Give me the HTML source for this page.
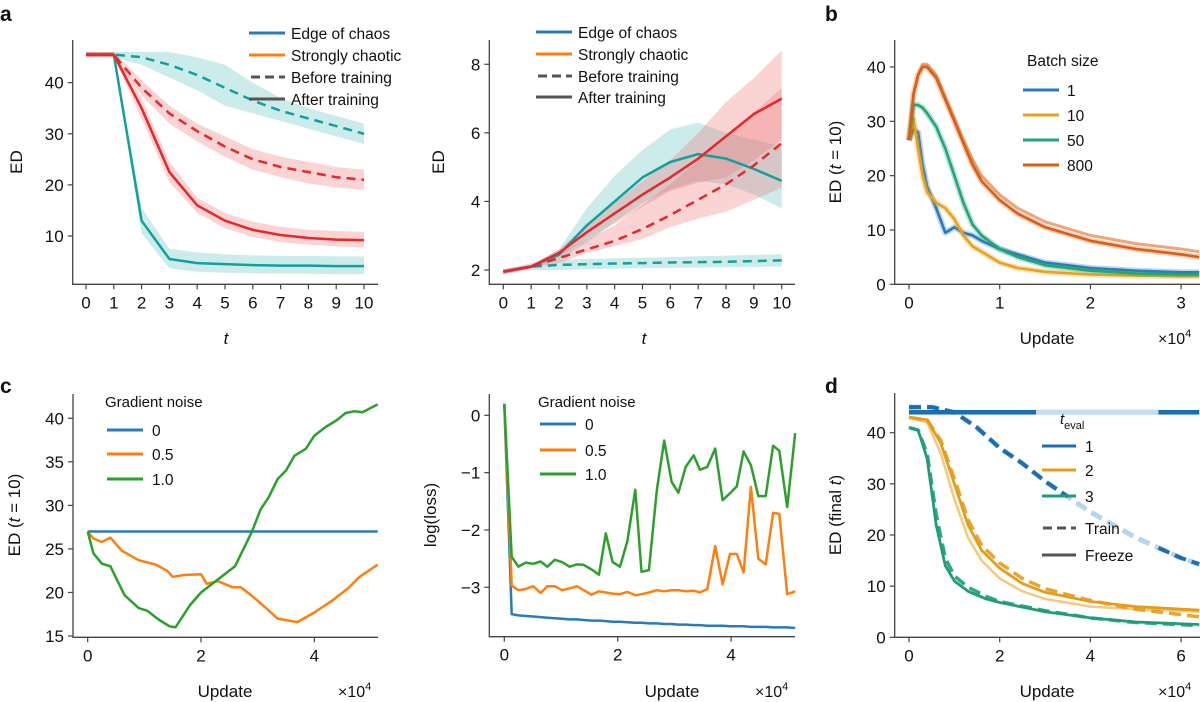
<!DOCTYPE html>
<html><head><meta charset="utf-8"><style>
body{margin:0;background:#fff;}
svg{display:block;font-family:"Liberation Sans",sans-serif;}
</style></head><body>
<svg id="fig" width="1200" height="702" viewBox="0 0 1200 702"></svg>
<script>
// ---- Panel a (left): ED vs t ----
const aT = [0,1,2,3,4,5,6,7,8,9,10];
const aEocAfter = [45.5,45.5,13,5.5,4.7,4.5,4.3,4.2,4.2,4.1,4.1];
const aEocAfterLo = [45,45,10.5,3.7,3,2.8,2.7,2.6,2.6,2.5,2.5];
const aEocAfterHi = [46,46,15.5,7.5,6.8,6.4,6.2,6.1,6.1,6.0,6.0];
const aEocBefore = [45.5,45.5,45,43.5,41.5,39,36.5,34.5,33,31.5,30];
const aEocBeforeLo = [45,45,43.5,41,38.5,35.5,34,32.5,31,29.5,28];
const aEocBeforeHi = [46,46,46,46,45,43.5,40,37,35,33.5,32];
const aChAfter = [45.5,45.5,35,22.5,16,13,11.2,10.2,9.6,9.3,9.2];
const aChAfterLo = [45,45,33,20.5,14.5,11.5,9.8,8.8,8.3,8,7.8];
const aChAfterHi = [46,46,37,24.5,17.5,14.5,12.8,11.8,11.2,11,10.8];
const aChBefore = [45.5,45.5,39,34,30.5,27.5,25,23.5,22.5,21.5,21];
const aChBeforeLo = [45,45,37.5,32,28.5,25.5,23,21.5,20.3,19.5,19];
const aChBeforeHi = [46,46,40.5,35.5,32,29.5,27,25.5,24.5,23.5,23];
const aYTicks = [10,20,30,40];
const aXTicks = [0,1,2,3,4,5,6,7,8,9,10];
// ---- Panel a (right) ----
const a2EocAfter = [1.95,2.1,2.45,3.3,4.0,4.7,5.15,5.38,5.25,4.95,4.6];
const a2EocAfterLo = [1.88,2.05,2.3,2.8,3.4,3.95,4.35,4.6,4.5,4.2,3.8];
const a2EocAfterHi = [2.02,2.15,2.6,3.8,4.75,5.5,6.1,6.3,6.0,5.8,5.6];
const a2EocBefore = [1.95,2.1,2.15,2.17,2.19,2.2,2.22,2.23,2.24,2.26,2.28];
const a2EocBeforeLo = [1.88,2.0,2.0,2.02,2.04,2.05,2.06,2.07,2.08,2.09,2.1];
const a2EocBeforeHi = [2.02,2.2,2.3,2.32,2.34,2.36,2.38,2.4,2.42,2.44,2.46];
const a2ChAfter = [1.95,2.1,2.5,3.1,3.65,4.2,4.7,5.25,5.9,6.55,7.0];
const a2ChAfterLo = [1.88,2.05,2.4,2.9,3.35,3.85,4.3,4.55,4.7,5.2,5.8];
const a2ChAfterHi = [2.02,2.15,2.6,3.3,3.95,4.6,5.2,6.0,6.9,7.6,8.4];
const a2ChBefore = [1.95,2.1,2.35,2.6,2.85,3.2,3.6,4.05,4.5,5.05,5.7];
const a2ChBeforeLo = [1.88,2.05,2.2,2.5,2.7,2.9,3.25,3.5,3.7,4.05,4.4];
const a2ChBeforeHi = [2.02,2.15,2.5,2.9,3.3,3.9,4.5,5.2,5.9,6.6,7.3];
const a2YTicks = [2,4,6,8];
// ---- Panel b ----
const bUpd = [0,0.05,0.1,0.15,0.2,0.3,0.4,0.5,0.6,0.7,0.8,1.0,1.2,1.5,2.0,2.5,3.0,3.2];
const bB1 = [26.5,28.5,28,22,18,14,9.5,10.5,9.5,9,8,6.5,5.5,4,3,2.5,2.2,2.2];
const bB10 = [26.5,30.5,25,20,17,15,14,12,9,7,6,4,3,2.3,1.8,1.6,1.5,1.5];
const bB50 = [26.5,33,33,32.5,31.5,29,25,20,15,11,9,6.5,5,3.5,2.5,2,1.8,1.8];
const bB800 = [26.5,35,38.5,40,40,38,34,30,26,22,19,15.5,13,10.5,8,6.5,5.5,5];
const bB800b = [26.5,35,38.5,40.5,40.5,38.5,34.5,30.5,26.5,23,20,16.5,14,11.5,9,7.5,6.5,6];
const bYTicks = [0,10,20,30,40];
const bXTicks = [0,1,2,3];
// ---- Panel c (left) ----
const cUpdGreen = [0,0.1,0.25,0.4,0.65,0.9,1.05,1.25,1.45,1.55,1.8,2.0,2.3,2.6,2.75,2.9,3.05,3.2,3.35,3.5,3.65,3.85,4.0,4.2,4.4,4.55,4.7,4.85,5.0,5.12];
const cGreen = [27,24.5,23.3,23,19.7,18.2,17.9,16.9,16.1,16,18.5,20,21.5,23,25,27,29.5,31,33,34,35.7,36.5,38,39,39.8,40.6,40.8,40.7,41.2,41.6];
const cUpdOrange = [0,0.1,0.25,0.4,0.6,0.9,1.2,1.4,1.5,1.7,2.0,2.1,2.3,2.55,2.7,2.9,3.2,3.35,3.7,4.0,4.3,4.6,4.8,5.12];
const cOrange = [27,26.2,25.8,26.3,24.8,23.7,23.2,22.5,21.8,22,22.1,21,21.3,20.6,20.6,19.6,17.9,17,16.6,17.7,19,20.5,21.8,23.2];
const cUpdBlue = [0,5.12];
const cBlue = [27,27];
const cYTicks = [15,20,25,30,35,40];
const cXTicks = [0,2,4];
// ---- Panel c (right) ----
const c2Upd = [0,0.13,0.25,0.38,0.51,0.64,0.76,0.89,1.02,1.15,1.28,1.4,1.54,1.67,1.79,1.91,2.04,2.17,2.31,2.42,2.55,2.69,2.82,2.95,3.07,3.2,3.34,3.45,3.58,3.72,3.85,3.98,4.1,4.22,4.35,4.48,4.61,4.74,4.85,4.99,5.13];
const c2Green = [0.2,-2.47,-2.64,-2.57,-2.59,-2.55,-2.64,-2.52,-2.56,-2.64,-2.6,-2.61,-2.69,-2.78,-2.06,-2.56,-2.64,-2.2,-1.3,-2.73,-2.7,-1.31,-0.44,-1.16,-1.35,-0.9,-0.7,-0.95,-0.9,-0.58,-1.48,-1.36,-1.24,-0.63,-0.87,-1.41,-1.41,-0.53,-0.62,-1.6,-0.31];
const c2Orange = [0.2,-2.97,-3.05,-3.03,-2.98,-3.1,-2.98,-2.98,-3.05,-3.02,-2.98,-3.05,-3.13,-3.07,-3.09,-3.11,-3.12,-3.08,-3.14,-3.12,-3.09,-3.05,-3.07,-3.05,-3.05,-3.07,-3.06,-3.09,-3.03,-2.28,-2.95,-2.42,-2.42,-2.74,-1.25,-2.5,-2.6,-1.7,-1.72,-3.12,-3.07];
const c2Blue = [0.2,-3.47,-3.49,-3.5,-3.51,-3.52,-3.53,-3.54,-3.55,-3.56,-3.56,-3.57,-3.58,-3.58,-3.59,-3.6,-3.6,-3.61,-3.62,-3.62,-3.63,-3.63,-3.64,-3.64,-3.65,-3.65,-3.66,-3.66,-3.67,-3.67,-3.67,-3.68,-3.68,-3.68,-3.69,-3.69,-3.69,-3.7,-3.7,-3.7,-3.71];
const c2YTicks = [-3,-2,-1,0];
const c2YLabels = ["\u22123","\u22122","\u22121","0"];
// ---- Panel d ----
const dUpd1 = [0,0.5,1,1.5,2,2.5,3,3.5,4,4.5,5,5.5,6,6.4];
const dT1Train = [45,45,44,41,37,34,30.5,27.5,24.5,22,19.5,17.5,15.5,14.3];
const dT1Freeze = [44,44,44,44,44,44,44,44,44,44,44,44,44,44];
const dUpd2 = [0,0.4,0.7,1,1.3,1.6,2,2.5,3,4,5,6.4];
const dT2Freeze = [43,42.5,38,30,22,17,13.5,10.5,8.8,7,6,5.3];
const dT2FreezeB = [43,42,36,27,19.5,15,11.5,9,7.5,6,5.5,5];
const dT2Train = [43,42.5,38.5,31,23,18,14.5,11.5,9.5,7.2,5.5,4];
const dUpd3 = [0,0.2,0.4,0.6,0.8,1,1.3,1.7,2,3,4,5,6.4];
const dT3Freeze = [41,40.5,35,22,14,11,9,7.5,6.8,5,3.8,3,2.5];
const dT3Train = [41,40.5,36,24,15.5,12,9.8,8,7,5.2,3.8,2.9,2.3];
const dYTicks = [0,10,20,30,40];
const dXTicks = [0,2,4,6];

const NS = "http://www.w3.org/2000/svg";
const svg = document.getElementById('fig');
function el(tag, attrs, parent, text){
  const e = document.createElementNS(NS, tag);
  for (const k in attrs) e.setAttribute(k, attrs[k]);
  if (text !== undefined) e.textContent = text;
  (parent || svg).appendChild(e);
  return e;
}
function scale(d0,d1,p0,p1){ return v => p0 + (v-d0)*(p1-p0)/(d1-d0); }
function pathD(xs, ys, sx, sy){
  let d = "";
  const n = Math.min(xs.length, ys.length);
  for (let i=0;i<n;i++) d += (i?"L":"M") + sx(xs[i]).toFixed(1) + "," + sy(ys[i]).toFixed(1);
  return d;
}
function drawAxes(g, ax){
  const axisLine = el('path',{d:`M${ax.left},${ax.top}V${ax.bottom}H${ax.right}`,fill:'none',stroke:'#444','stroke-width':1.3},g);
  
  
  ax.yt.forEach((v,i)=>{
    const y = ax.sy(v);
    const t = el('line',{x1:ax.left-5,x2:ax.left,y1:y,y2:y,stroke:'#444','stroke-width':1.2},g);
    
    
    const lb = el('text',{x:ax.left-9,y:y+6,'text-anchor':'end','font-size':17,fill:'#111'},g,ax.ytl?ax.ytl[i]:String(v));
    
    
  });
  ax.xt.forEach(v=>{
    const x = ax.sx(v);
    const t = el('line',{x1:x,x2:x,y1:ax.bottom,y2:ax.bottom+5,stroke:'#444','stroke-width':1.2},g);
    
    
    const lb = el('text',{x:x,y:ax.bottom+24,'text-anchor':'middle','font-size':17,fill:'#111'},g,String(v));
    
    
  });
}
function line(g, xs, ys, ax, color, w, dash, op, name){
  const p = el('path',{d:pathD(xs,ys,ax.sx,ax.sy),fill:'none',stroke:color,'stroke-width':w,'stroke-linejoin':'round','stroke-opacity':op||1},g);
  if (dash) p.setAttribute('stroke-dasharray', dash);
  
  
  return p;
}
function band(g, xs, lo, hi, ax, color, name){
  let d = pathD(xs,hi,ax.sx,ax.sy);
  for (let i=xs.length-1;i>=0;i--) d += "L"+ax.sx(xs[i]).toFixed(1)+","+ax.sy(lo[i]).toFixed(1);
  const p = el('path',{d:d+"Z",fill:color,stroke:'none'},g);
  
  
}
function txt(g, x, y, s, size, name, extra){
  const a = Object.assign({x:x,y:y,'font-size':size,fill:'#111'}, extra||{});
  const t = el('text',a,g,s);
  
  
  return t;
}
function legLine(g, x1, x2, y, color, dash, name){
  const l = el('line',{x1:x1,x2:x2,y1:y,y2:y,stroke:color,'stroke-width':3},g);
  if (dash) l.setAttribute('stroke-dasharray', dash);
  
  
}
function panel(name){
  const g = el('g',{});
  
  
  return g;
}
const TEAL='#12a09c', RED='#e8262e', TEALB='rgba(110,200,200,0.35)', REDB='rgba(240,110,110,0.3)';

// Panel a left
{
  const g = panel('panel-a-left');
  const ax = {left:72.7, right:378, top:40, bottom:284.3, sx:scale(0,10,86,364), sy:scale(10,40,236,82.7), yt:aYTicks, xt:aXTicks};
  band(g,aT,aEocBeforeLo,aEocBeforeHi,ax,TEALB,'band-eoc-before');
  band(g,aT,aEocAfterLo,aEocAfterHi,ax,TEALB,'band-eoc-after');
  band(g,aT,aChBeforeLo,aChBeforeHi,ax,REDB,'band-chaotic-before');
  band(g,aT,aChAfterLo,aChAfterHi,ax,REDB,'band-chaotic-after');
  line(g,aT,aEocBefore,ax,TEAL,2.5,'9,6',1,'line-eoc-before');
  line(g,aT,aEocAfter,ax,TEAL,2.5,null,1,'line-eoc-after');
  line(g,aT,aChBefore,ax,RED,2.5,'9,6',1,'line-chaotic-before');
  line(g,aT,aChAfter,ax,RED,2.5,null,1,'line-chaotic-after');
  drawAxes(g,ax);
  txt(g,0,21,'a',21,'panel-label-a',{'font-weight':'bold'});
  txt(g,22,162,'ED',17,'y-axis-title',{transform:'rotate(-90 22 162)','text-anchor':'middle'});
  txt(g,226,344,'t',17,'x-axis-title',{'font-style':'italic','text-anchor':'middle'});
  legLine(g,249,285,33,'#2b7bba',null,'legend-line-eoc');
  legLine(g,249,285,55,'#ff7f0e',null,'legend-line-chaotic');
  legLine(g,251,285,77,'#555','9,5','legend-line-before');
  legLine(g,249,285,99,'#555',null,'legend-line-after');
  txt(g,291,39,'Edge of chaos',15.5,'legend-entry');
  txt(g,291,61,'Strongly chaotic',15.5,'legend-entry');
  txt(g,291,83,'Before training',15.5,'legend-entry');
  txt(g,291,105,'After training',15.5,'legend-entry');
}
// Panel a right
{
  const g = panel('panel-a-right');
  const ax = {left:489.3, right:795, top:40, bottom:284.3, sx:scale(0,10,503.3,781.7), sy:scale(2,8,270,64.3), yt:a2YTicks, xt:aXTicks};
  band(g,aT,a2EocBeforeLo,a2EocBeforeHi,ax,TEALB,'band-eoc-before');
  band(g,aT,a2EocAfterLo,a2EocAfterHi,ax,TEALB,'band-eoc-after');
  band(g,aT,a2ChBeforeLo,a2ChBeforeHi,ax,REDB,'band-chaotic-before');
  band(g,aT,a2ChAfterLo,a2ChAfterHi,ax,REDB,'band-chaotic-after');
  line(g,aT,a2EocBefore,ax,TEAL,2.5,'9,6',1,'line-eoc-before');
  line(g,aT,a2EocAfter,ax,TEAL,2.5,null,1,'line-eoc-after');
  line(g,aT,a2ChBefore,ax,RED,2.5,'9,6',1,'line-chaotic-before');
  line(g,aT,a2ChAfter,ax,RED,2.5,null,1,'line-chaotic-after');
  drawAxes(g,ax);
  txt(g,444,162,'ED',17,'y-axis-title',{transform:'rotate(-90 444 162)','text-anchor':'middle'});
  txt(g,644,344,'t',17,'x-axis-title',{'font-style':'italic','text-anchor':'middle'});
  legLine(g,536,572,32,'#2b7bba',null,'legend-line-eoc');
  legLine(g,536,572,54,'#ff7f0e',null,'legend-line-chaotic');
  legLine(g,538,572,76,'#555','9,5','legend-line-before');
  legLine(g,536,572,97,'#555',null,'legend-line-after');
  txt(g,578,38,'Edge of chaos',15.5,'legend-entry');
  txt(g,578,60,'Strongly chaotic',15.5,'legend-entry');
  txt(g,578,82,'Before training',15.5,'legend-entry');
  txt(g,578,103,'After training',15.5,'legend-entry');
}
// Panel b
{
  const g = panel('panel-b');
  const ax = {left:894.7, right:1200, top:40, bottom:284.3, sx:scale(0,1,909,999.7), sy:scale(0,40,284.3,67), yt:bYTicks, xt:bXTicks};
  const C = {b1:'#2a78be', b10:'#e8a21b', b50:'#22a577', b800:'#d95f14'};
  line(g,bUpd,bB800b,ax,C.b800,3,null,0.55,'line-batch-800-run2');
  [['b1',bB1],['b10',bB10],['b50',bB50],['b800',bB800]].forEach(([k,ys])=>{
    line(g,bUpd,ys,ax,C[k],6,null,0.3,'band-batch-'+k.slice(1));
    line(g,bUpd,ys,ax,C[k],2.6,null,1,'line-batch-'+k.slice(1));
  });
  drawAxes(g,ax);
  txt(g,825,21,'b',21,'panel-label-b',{'font-weight':'bold'});
  txt(g,841,162,'',17,'y-axis-title',{transform:'rotate(-90 841 162)','text-anchor':'middle'}).innerHTML='ED (<tspan font-style="italic">t</tspan> = 10)';
  txt(g,1047,344,'Update',17,'x-axis-title',{'text-anchor':'middle'});
  txt(g,1158,344,'',16,'x-axis-multiplier').innerHTML='×10<tspan dy="-7" font-size="11">4</tspan>';
  txt(g,1027,66,'Batch size',15.5,'legend-title');
  legLine(g,1023,1059,90,C.b1,null,'legend-line-1');
  legLine(g,1023,1059,115,C.b10,null,'legend-line-10');
  legLine(g,1023,1059,140,C.b50,null,'legend-line-50');
  legLine(g,1023,1059,165,C.b800,null,'legend-line-800');
  txt(g,1067,96,'1',15.5,'legend-entry');
  txt(g,1067,121,'10',15.5,'legend-entry');
  txt(g,1067,146,'50',15.5,'legend-entry');
  txt(g,1067,171,'800',15.5,'legend-entry');
}
// Panel c left
{
  const g = panel('panel-c-left');
  const ax = {left:73, right:378, top:394, bottom:637.3, sx:scale(0,2,87.7,201), sy:scale(15,40,636,418.3), yt:cYTicks, xt:cXTicks};
  line(g,cUpdBlue,cBlue,ax,'#2c7bb6',2.5,null,1,'line-noise-0');
  line(g,cUpdOrange,cOrange,ax,'#ff7f0e',2.5,null,1,'line-noise-0.5');
  line(g,cUpdGreen,cGreen,ax,'#2ca02c',2.5,null,1,'line-noise-1.0');
  drawAxes(g,ax);
  txt(g,0,393,'c',21,'panel-label-c',{'font-weight':'bold'});
  txt(g,20,515,'',17,'y-axis-title',{transform:'rotate(-90 20 515)','text-anchor':'middle'}).innerHTML='ED (<tspan font-style="italic">t</tspan> = 10)';
  txt(g,225,697,'Update',17,'x-axis-title',{'text-anchor':'middle'});
  txt(g,338,697,'',16,'x-axis-multiplier').innerHTML='×10<tspan dy="-7" font-size="11">4</tspan>';
  txt(g,105,407,'Gradient noise',15,'legend-title');
  legLine(g,107,143,430,'#2c7bb6',null,'legend-line-0');
  legLine(g,107,143,454,'#ff7f0e',null,'legend-line-0.5');
  legLine(g,107,143,479,'#2ca02c',null,'legend-line-1.0');
  txt(g,152,436,'0',15.5,'legend-entry');
  txt(g,152,460,'0.5',15.5,'legend-entry');
  txt(g,152,485,'1.0',15.5,'legend-entry');
}
// Panel c right
{
  const g = panel('panel-c-right');
  const ax = {left:489.3, right:795, top:394, bottom:636.7, sx:scale(0,2,504.3,617.7), sy:scale(-3,0,587.3,415.3), yt:c2YTicks, ytl:c2YLabels, xt:cXTicks};
  line(g,c2Upd,c2Blue,ax,'#2c7bb6',2.5,null,1,'line-noise-0');
  line(g,c2Upd,c2Orange,ax,'#ff7f0e',2.5,null,1,'line-noise-0.5');
  line(g,c2Upd,c2Green,ax,'#2ca02c',2.5,null,1,'line-noise-1.0');
  drawAxes(g,ax);
  txt(g,436,515,'log(loss)',17,'y-axis-title',{transform:'rotate(-90 436 515)','text-anchor':'middle'});
  txt(g,672,697,'Update',17,'x-axis-title',{'text-anchor':'middle'});
  txt(g,755,697,'',16,'x-axis-multiplier').innerHTML='×10<tspan dy="-7" font-size="11">4</tspan>';
  txt(g,538,407,'Gradient noise',15,'legend-title');
  legLine(g,540,576,424,'#2c7bb6',null,'legend-line-0');
  legLine(g,540,576,450,'#ff7f0e',null,'legend-line-0.5');
  legLine(g,540,576,474,'#2ca02c',null,'legend-line-1.0');
  txt(g,585,430,'0',15.5,'legend-entry');
  txt(g,585,456,'0.5',15.5,'legend-entry');
  txt(g,585,480,'1.0',15.5,'legend-entry');
}
// Panel d
{
  const g = panel('panel-d');
  const ax = {left:894.7, right:1200, top:393, bottom:637.3, sx:scale(0,2,909,999.7), sy:scale(0,40,637.3,432.7), yt:dYTicks, xt:dXTicks};
  const B='#1b6fb0', O='#e69c18', G='#1d9e77';
  line(g,dUpd1,dT1Freeze,ax,'#c4dcef',5,null,1,'line-t1-freeze');
  line(g,dUpd1,dT1Train,ax,'#b9d4ec',5,'12,6',1,'line-t1-train');
  const seg = line(g,dUpd1,dT1Freeze,ax,B,4.5,null,1,'line-t1-freeze-dark');
  seg.setAttribute('stroke-dasharray', `${(ax.sx(2.8)-ax.sx(0)).toFixed(1)},${(ax.sx(5.5)-ax.sx(2.8)).toFixed(1)}`);
  line(g,dUpd1.slice(0,8),dT1Train.slice(0,8),ax,B,4,'12,6',1,'line-t1-train-dark');
  line(g,dUpd1.slice(11),dT1Train.slice(11),ax,B,4,'12,6',1,'line-t1-train-dark-tail');
  line(g,dUpd2,dT2FreezeB,ax,O,2.5,null,0.55,'line-t2-freeze-run2');
  line(g,dUpd2,dT2Train,ax,O,3.5,'12,6',0.9,'line-t2-train');
  line(g,dUpd2,dT2Freeze,ax,O,2.8,null,1,'line-t2-freeze');
  line(g,dUpd3,dT3Train,ax,G,3.5,'12,6',0.9,'line-t3-train');
  line(g,dUpd3,dT3Freeze,ax,G,2.8,null,1,'line-t3-freeze');
  drawAxes(g,ax);
  txt(g,825,393,'d',21,'panel-label-d',{'font-weight':'bold'});
  txt(g,841,515,'',17,'y-axis-title',{transform:'rotate(-90 841 515)','text-anchor':'middle'}).innerHTML='ED (final <tspan font-style="italic">t</tspan>)';
  txt(g,1047,697,'Update',17,'x-axis-title',{'text-anchor':'middle'});
  txt(g,1158,697,'',16,'x-axis-multiplier').innerHTML='×10<tspan dy="-7" font-size="11">4</tspan>';
  txt(g,1060,424,'',15,'legend-title').innerHTML='<tspan font-style="italic">t</tspan><tspan dy="5" font-size="11">eval</tspan>';
  legLine(g,1042,1076,446,B,null,'legend-line-1');
  legLine(g,1042,1076,470,O,null,'legend-line-2');
  legLine(g,1042,1076,496,G,null,'legend-line-3');
  legLine(g,1043,1076,528,'#555','9,5','legend-line-train');
  legLine(g,1042,1076,555,'#555',null,'legend-line-freeze');
  txt(g,1085,452,'1',15.5,'legend-entry');
  txt(g,1085,476,'2',15.5,'legend-entry');
  txt(g,1085,502,'3',15.5,'legend-entry');
  txt(g,1085,534,'Train',15.5,'legend-entry');
  txt(g,1085,561,'Freeze',15.5,'legend-entry');
}
</script>
</body></html>
